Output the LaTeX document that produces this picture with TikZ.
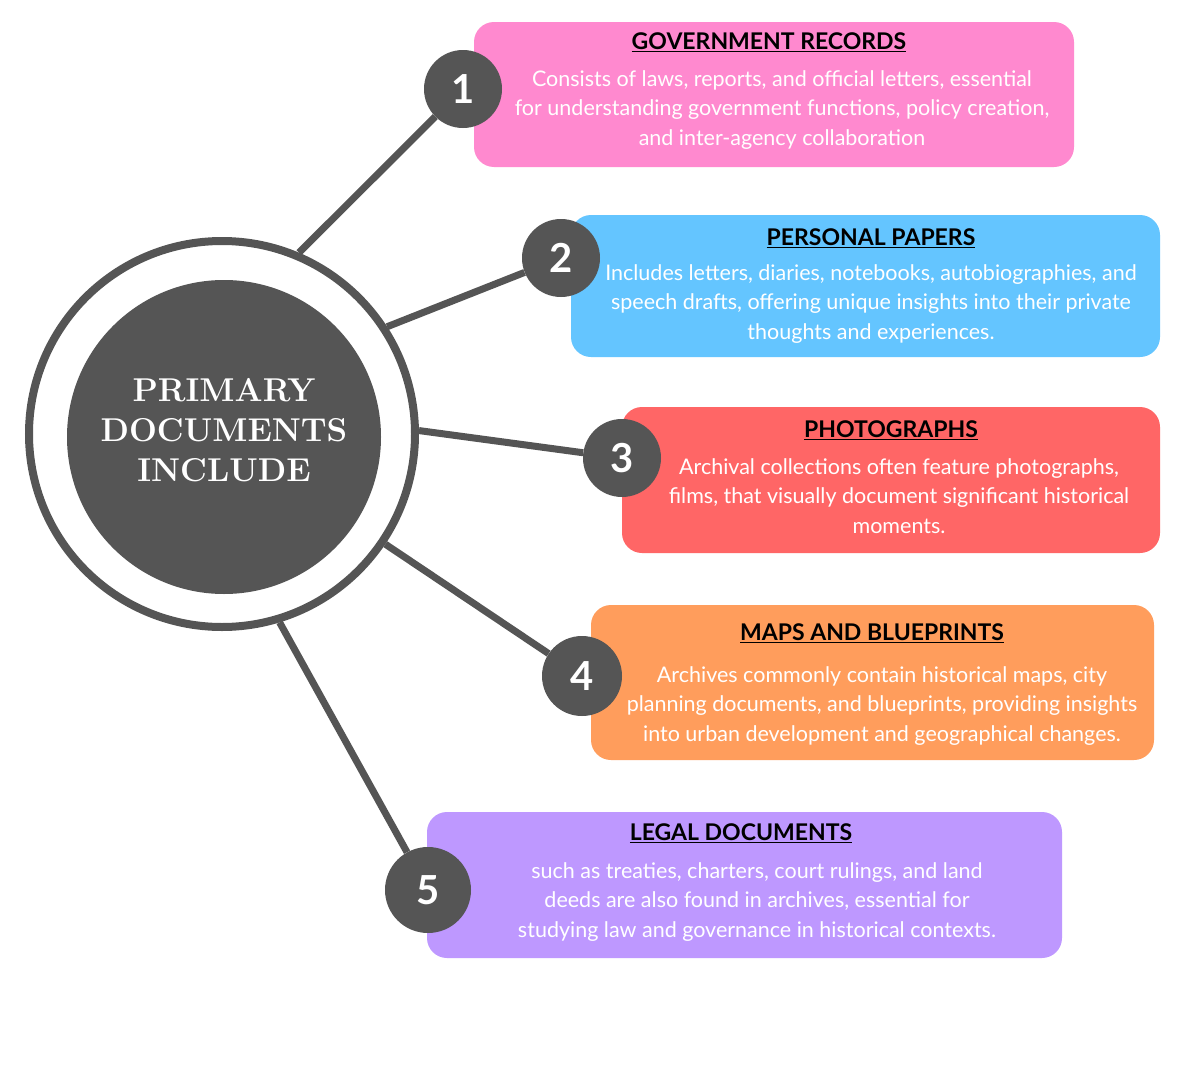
\documentclass[tikz,border=0pt]{standalone}
\usepackage{fontspec}
\newfontfamily\bodyfont{Lato}
\definecolor{dgray}{HTML}{555555}
\definecolor{cpink}{HTML}{FF89CF}
\definecolor{cblue}{HTML}{64C5FF}
\definecolor{cred}{HTML}{FF6666}
\definecolor{corange}{HTML}{FF9D5C}
\definecolor{cpurple}{HTML}{BE98FF}
\begin{document}
\begin{tikzpicture}[x=1pt,y=-1pt,
  conn/.style={draw=dgray, line width=7pt},
  numc/.style={circle, fill=dgray, minimum size=78pt, inner sep=0pt, text=white, font=\bodyfont\bfseries\fontsize{40}{40}\selectfont},
  card/.style={rectangle, rounded corners=20pt, inner sep=0pt},
  ttl/.style={font=\bodyfont\bfseries\fontsize{23}{26}\selectfont, text=black, inner sep=0pt},
  body/.style={font=\bodyfont\fontsize{21.5}{29.5}\selectfont, text=white, align=center, inner sep=0pt}]

\fill[white] (0,0) rectangle (1200,1068);
\useasboundingbox (0,0) rectangle (1200,1068);

% centre
\node[circle, draw=dgray, line width=8pt, minimum size=386pt, inner sep=0pt] (ring) at (222,434) {};
\node[circle, fill=dgray, minimum size=314pt, inner sep=0pt] (disk) at (224,437) {};
\node[text=white, align=center, font=\bfseries\fontsize{33}{40}\selectfont] (ctext) at (224,430) {PRIMARY\\DOCUMENTS\\INCLUDE};

% cards
\node[card, fill=cpink, minimum width=600pt, minimum height=145pt] (b1) at (774,94.5) {};
\node[card, fill=cblue, minimum width=589pt, minimum height=142pt] (b2) at (865.5,286) {};
\node[card, fill=cred, minimum width=538pt, minimum height=146pt] (b3) at (891,480) {};
\node[card, fill=corange, minimum width=563pt, minimum height=155pt] (b4) at (872.5,682.5) {};
\node[card, fill=cpurple, minimum width=635pt, minimum height=146pt] (b5) at (744.5,885) {};

% titles
\node[ttl] (t1) at (769,42) {\underline{GOVERNMENT RECORDS}};
\node[ttl] (t2) at (871,238) {\underline{PERSONAL PAPERS}};
\node[ttl] (t3) at (891,430) {\underline{PHOTOGRAPHS}};
\node[ttl] (t4) at (872,633) {\underline{MAPS AND BLUEPRINTS}};
\node[ttl] (t5) at (741,833) {\underline{LEGAL DOCUMENTS}};

% bodies
\node[body] (d1) at (782,110) {Consists of laws, reports, and official letters, essential\\for understanding government functions, policy creation,\\and inter-agency collaboration};
\node[body] (d2) at (871,304) {Includes letters, diaries, notebooks, autobiographies, and\\speech drafts, offering unique insights into their private\\thoughts and experiences.};
\node[body] (d3) at (899,496) {Archival collections often feature photographs,\\films, that visually document significant historical\\moments.};
\node[body] (d4) at (882,706) {Archives commonly contain historical maps, city\\planning documents, and blueprints, providing insights\\into urban development and geographical changes.};
\node[body] (d5) at (757,902) {such as treaties, charters, court rulings, and land\\deeds are also found in archives, essential for\\studying law and governance in historical contexts.};

% number circles
\node[numc] (c1) at (463,89) {1};
\node[numc] (c2) at (561,258) {2};
\node[numc] (c3) at (622,458) {3};
\node[numc, minimum size=80pt] (c4) at (582,676) {4};
\node[numc, minimum size=86pt] (c5) at (428,890) {5};

% connectors
\draw[conn] (ring.67.6) -- (c1);
\draw[conn] (ring.33.8) -- (c2);
\draw[conn] (ring.1.7) -- (c3);
\draw[conn] (ring.-34.3) -- (c4);
\draw[conn] (ring.-73.4) -- (c5);
\end{tikzpicture}
\end{document}
